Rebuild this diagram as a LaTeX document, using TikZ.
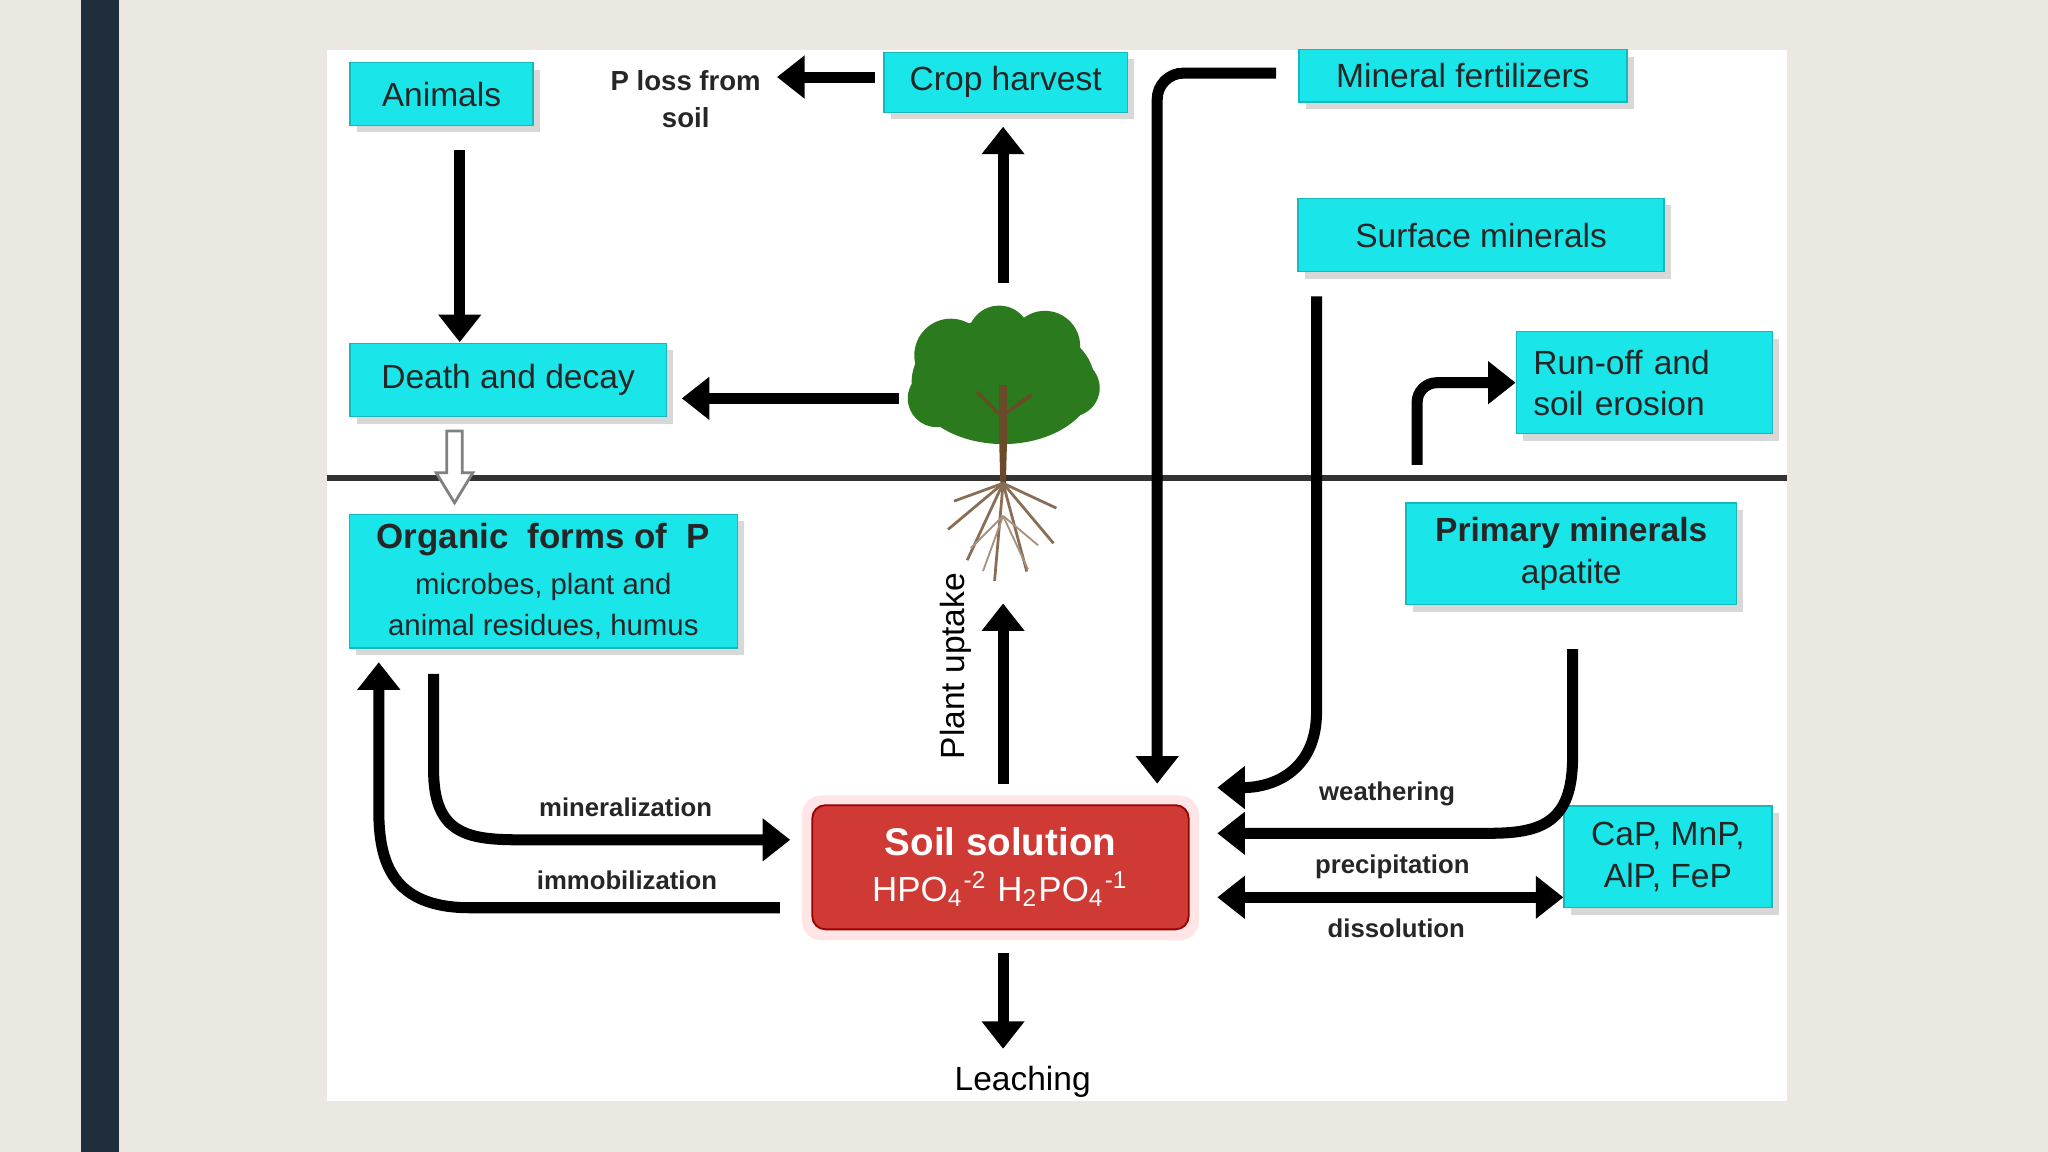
\documentclass[tikz,border=0pt]{standalone}
\usepackage{fontspec}
\setmainfont{Liberation Sans}
\usetikzlibrary{arrows.meta,shadows}
\definecolor{pagebg}{HTML}{EBE8E2}
\definecolor{barcol}{HTML}{1F2D3D}
\definecolor{boxcyan}{HTML}{1AE6EA}
\definecolor{leafgreen}{HTML}{2C7A1E}
\definecolor{barkbrown}{HTML}{6B4A2A}
\definecolor{solred}{HTML}{D03A35}
\tikzset{
  box/.style={fill=boxcyan, draw=boxcyan!80!black, line width=0.3pt, drop shadow={opacity=0.3,shadow xshift=1.5pt,shadow yshift=-1.5pt}, font=\fontsize{7.3}{9}\selectfont, text=black!85, align=center, inner sep=1pt},
  flow/.style={line width=2.4pt, -{Triangle[length=6pt,width=9pt]}},
  lbl/.style={font=\bfseries\fontsize{5.6}{7}\selectfont, text=black!85}
}
\begin{document}
\begin{tikzpicture}[x=0.01cm,y=-0.01cm]
% page
\fill[pagebg] (0,0) rectangle (1568,882);
\useasboundingbox (0,0) rectangle (1568,882);
\fill[barcol] (62,0) rectangle (91,882);
\fill[white] (250,38) rectangle (1368,843);

% ground line
\draw[line width=1.2pt, black!80] (250,366) -- (1368,366);

% boxes
\node[box, minimum width=1.40cm, minimum height=0.48cm] (animals) at (338,72) {Animals};
\node[box, minimum width=1.86cm, minimum height=0.46cm] (crop) at (770,63) {Crop harvest};
\node[box, minimum width=2.51cm, minimum height=0.40cm] (fert) at (1120,58) {Mineral fertilizers};
\node[box, minimum width=2.80cm, minimum height=0.56cm] (surface) at (1134,180) {Surface minerals};
\node[box, minimum width=1.96cm, minimum height=0.78cm, align=left, text width=1.70cm] (runoff) at (1259,293) {Run-off and\\soil erosion};
\node[box, minimum width=2.42cm, minimum height=0.56cm] (death) at (389,291) {Death and decay};
\node[box, minimum width=2.97cm, minimum height=1.02cm] (organic) at (416,445)
  {{\bfseries\fontsize{7.6}{9}\selectfont Organic\ \ forms of\ \ P}\\[1pt]{\fontsize{6.4}{8.5}\selectfont microbes, plant and}\\{\fontsize{6.4}{8.5}\selectfont animal residues, humus}};
\node[box, minimum width=2.53cm, minimum height=0.78cm] (primary) at (1203,424)
  {{\bfseries Primary minerals}\\apatite};
\node[box, minimum width=1.59cm, minimum height=0.78cm] (salts) at (1277,656) {CaP, MnP,\\AlP, FeP};

% soil solution
\fill[red!20, opacity=0.5, rounded corners=0.15cm] (614,609) rectangle (918,720);
\node[fill=solred, draw=red!60!black, rounded corners=0.1cm, minimum width=2.88cm, minimum height=0.95cm, text=white, align=center, font=\fontsize{7.6}{10}\selectfont] (soil) at (766,664)
  {{\bfseries\fontsize{8.4}{10}\selectfont Soil solution}\\HPO\textsubscript{4}\textsuperscript{-2} H\textsubscript{2}PO\textsubscript{4}\textsuperscript{-1}};

% tree
\fill[barkbrown] (764,300) -- (772,300) -- (770,375) -- (766,375) -- cycle;
\foreach \a/\l in {-65/45,-40/60,-15/70,5/75,25/65,50/55,70/40} {
  \draw[barkbrown!80, line width=0.6pt] (768,370) -- ++(\a-90:-\l);
}
\foreach \a/\l in {-50/35,-25/45,20/45,45/35} {
  \draw[barkbrown!60, line width=0.4pt] (768,395) -- ++(\a-90:-\l);
}
\fill[leafgreen] (768,292) ellipse (70 and 48);
\foreach \p/\r in {{(728,272)}/28,{(765,258)}/24,{(800,265)}/27,{(820,297)}/22,{(717,305)}/22,{(790,315)}/20} {
  \fill[leafgreen] \p circle (\r);
}
\draw[barkbrown, line width=1.6pt] (768,295) -- (768,340);
\draw[barkbrown, line width=0.8pt] (768,320) -- (748,300) (768,318) -- (790,302);
\coordinate (treetop) at (768,217);
\coordinate (treeleft) at (688,305);
\coordinate (deathin) at (522,305);
\coordinate (animout) at (352,115);
\coordinate (deathtop) at (352,262);
\coordinate (cropout) at (670,59);

% text labels
\node[align=center, font=\bfseries\fontsize{6}{8}\selectfont, text=black!85] (ploss) at (525,76) {P loss from\\soil};
\node[font=\fontsize{7.3}{9}\selectfont] (leach) at (783,828) {Leaching};
\node[font=\fontsize{7.3}{9}\selectfont, rotate=90] (uptake) at (732,510) {Plant uptake};
\node[lbl] (mineral) at (479,618) {mineralization};
\node[lbl] (immob) at (480,674) {immobilization};
\node[lbl] (weather) at (1062,608) {weathering};
\node[lbl] (precip) at (1066,664) {precipitation};
\node[lbl] (dissol) at (1069,711) {dissolution};

% arrows
\draw[flow] (animout) -- (deathtop);
\draw[flow] (cropout) -- (ploss.east |- cropout);
\draw[flow] (treetop) -- (768,97);
\draw[flow] (treeleft) -- (deathin);
\draw[flow, rounded corners=0.2cm] (977,56) -- (886,56) -- (886,600);
\draw[flow] (1008,227) -- (1008,545) .. controls (1008,590) and (975,603) .. (932,603);
\draw[flow, rounded corners=0.15cm] (1085,356) |- (runoff.west);
\draw[flow] (1204,497) -- (1204,580) .. controls (1204,630) and (1180,638) .. (1140,638) -- (932,638);
\draw[line width=2.4pt, {Triangle[length=6pt,width=9pt]}-{Triangle[length=6pt,width=9pt]}] (932,687) -- (salts.west |- 0,687);
\draw[flow] (332,516) -- (332,590) .. controls (332,640) and (360,643) .. (400,643) -- (605,643);
\draw[flow] (597,695) -- (360,695) .. controls (300,695) and (290,660) .. (290,620) -- (290,507);
\draw[flow] (768,600) -- (768,462);
\draw[flow] (768,730) -- (768,803);
% hollow arrow
\draw[gray, fill=white, line width=0.6pt] (342,330) -- (354,330) -- (354,362) -- (362,362) -- (348,385) -- (334,362) -- (342,362) -- cycle;
\end{tikzpicture}
\end{document}
